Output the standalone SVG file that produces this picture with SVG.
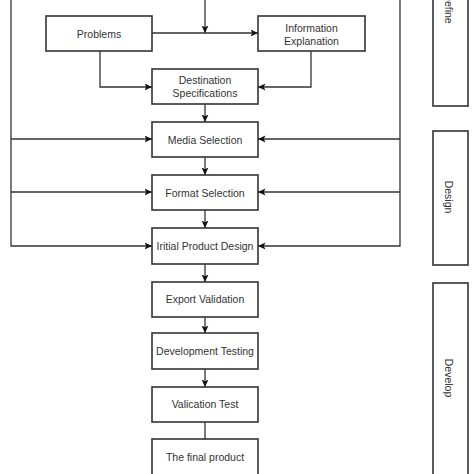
<svg xmlns="http://www.w3.org/2000/svg" width="474" height="474" viewBox="0 0 474 474">
<defs>
<style>
.box{fill:#fff;stroke:#333;stroke-width:1.6}
.lane{fill:#fff;stroke:#333;stroke-width:1.6}
.t{font-family:"Liberation Sans",Arial,sans-serif;font-size:10.5px;fill:#333;text-anchor:middle;dominant-baseline:central}
.c{fill:none;stroke:#333;stroke-width:1.3}
</style>
<marker id="a" markerUnits="userSpaceOnUse" markerWidth="9" markerHeight="9" refX="7.5" refY="3.5" orient="auto">
<path d="M0,0 L7.5,3.5 L0,7 L1.8,3.5 z" fill="#111"/>
</marker>
</defs>
<rect width="474" height="474" fill="#fff"/>
<g id="connectors">
<path class="c" d="M205,0 V33" marker-end="url(#a)"/>
<path class="c" d="M152,33 H258" marker-end="url(#a)"/>
<path class="c" d="M100,51 V87 H152" marker-end="url(#a)"/>
<path class="c" d="M311,51 V87 H258" marker-end="url(#a)"/>
<path class="c" d="M205,104 V122" marker-end="url(#a)"/>
<path class="c" d="M205,157 V175" marker-end="url(#a)"/>
<path class="c" d="M205,210 V228" marker-end="url(#a)"/>
<path class="c" d="M205,264 V282" marker-end="url(#a)"/>
<path class="c" d="M205,317 V333" marker-end="url(#a)"/>
<path class="c" d="M205,369 V387" marker-end="url(#a)"/>
<path class="c" d="M205,422 V439"/>
<path class="c" d="M11,0 V246 H152" marker-end="url(#a)"/>
<path class="c" d="M11,139 H152" marker-end="url(#a)"/>
<path class="c" d="M11,192 H152" marker-end="url(#a)"/>
<path class="c" d="M400,0 V246 H258" marker-end="url(#a)"/>
<path class="c" d="M400,139 H258" marker-end="url(#a)"/>
<path class="c" d="M400,192 H258" marker-end="url(#a)"/>
</g>
<g id="problems"><rect class="box" x="46" y="16" width="106" height="35"/><text class="t" x="99" y="33.5">Problems</text></g>
<g id="information"><rect class="box" x="258" y="16" width="107" height="35"/><text class="t" x="311.5" y="27.5">Information</text><text class="t" x="311.5" y="40.5">Explanation</text></g>
<g id="destination"><rect class="box" x="152" y="69" width="106" height="35"/><text class="t" x="205" y="80">Destination</text><text class="t" x="205" y="93">Specifications</text></g>
<g id="media"><rect class="box" x="152" y="122" width="106" height="35"/><text class="t" x="205" y="139.5">Media Selection</text></g>
<g id="format"><rect class="box" x="152" y="175" width="106" height="35"/><text class="t" x="205" y="192.5">Format Selection</text></g>
<g id="initial"><rect class="box" x="152" y="228" width="106" height="36"/><text class="t" x="205" y="246">Iritial Product Design</text></g>
<g id="export"><rect class="box" x="152" y="282" width="106" height="35"/><text class="t" x="205" y="299">Export Validation</text></g>
<g id="development"><rect class="box" x="152" y="333" width="106" height="36"/><text class="t" x="205" y="351">Development Testing</text></g>
<g id="valication"><rect class="box" x="152" y="387" width="106" height="35"/><text class="t" x="205" y="404">Valication Test</text></g>
<g id="final"><rect class="box" x="152" y="439" width="106" height="40"/><text class="t" x="205" y="456.5">The final product</text></g>
<g id="define"><rect class="lane" x="433" y="-90" width="35" height="196"/><text class="t" transform="translate(449,8.5) rotate(90)">Define</text></g>
<g id="design"><rect class="lane" x="433" y="131" width="35" height="134"/><text class="t" transform="translate(449,197) rotate(90)">Design</text></g>
<g id="develop"><rect class="lane" x="433" y="283" width="35" height="195"/><text class="t" transform="translate(449,378) rotate(90)">Develop</text></g>
</svg>
